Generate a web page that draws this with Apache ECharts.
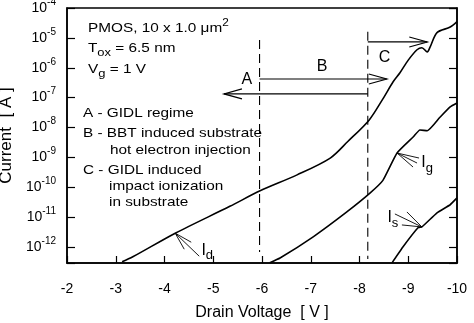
<!DOCTYPE html>
<html><head><meta charset="utf-8">
<script src="https://cdn.jsdelivr.net/npm/echarts@6/dist/echarts.min.js"></script>
<style>html,body{margin:0;padding:0;background:#fff}#c{width:474px;height:323px}</style>
</head><body><div id="c"></div>
<script>
// ---- data (drain voltage in V, current in A) ----
const idV = [-3.13, -3.35, -4.22, -5.34, -5.96, -6.72, -7.40, -7.76, -8.20, -8.48, -8.69, -8.83, -9.00, -9.18, -9.28, -9.39, -9.45, -9.59, -9.86, -10.0];
const idI = [3.2e-13, 4.7e-13, 2.9e-12, 2.3e-11, 7.6e-11, 2.6e-10, 9.5e-10, 3.4e-9, 1.8e-8, 9.1e-8, 3.4e-7, 6.8e-7, 1.8e-6, 4.0e-6, 4.7e-6, 3.4e-6, 5.0e-6, 1.5e-5, 2.3e-5, 3.5e-5];
const igV = [-6.16, -6.37, -7.05, -7.74, -8.22, -8.48, -8.77, -9.10, -9.24, -9.39, -9.65, -9.86, -10.0];
const igI = [3.0e-13, 4.3e-13, 2.2e-12, 1.5e-11, 6.5e-11, 1.7e-10, 1.4e-9, 4.8e-9, 8.3e-9, 7.8e-9, 2.2e-8, 4.9e-8, 6.6e-8];
const isV = [-8.67, -8.89, -9.20, -9.28, -9.59, -9.86, -10.0];
const isI = [3.0e-13, 1.0e-12, 4.4e-12, 4.7e-12, 1.4e-11, 2.6e-11, 4.4e-11];

// region boundaries (dashed lines)
const regionV = [-5.95, -8.17];
const regionTop = [8.5e-6, 1.6e-5];
const regionBottom = [6.8e-13, 4.0e-13];

// region arrows
const arrowLabels = ['A', 'B', 'C'];
const arrowFrom = [-8.17, -5.95, -8.17];
const arrowTo = [-5.22, -8.56, -9.39];
const arrowI = [1.33e-7, 4.2e-7, 7.3e-6];

// curve labels (anchor point on each curve)
const leaderNames = ['d', 'g', 's'];
const leaderV = [-4.22, -8.77, -9.28];
const leaderI = [2.9e-12, 1.4e-9, 4.7e-12];

// axis range
const xMin = -10, xMax = -2;
const yMin = 2.92e-13, yMax = 1e-4;

// ---- styling ----
const FONT = '"Liberation Sans", Arial, Helvetica, sans-serif';
const arrowLabelOffset = [[-49, -14], [-1, -12], [-13, 16]];
const leaderFan = [
  [[9, 16], [16, 9], [24, 23]],
  [[22, 5], [20, 10], [16, 14]],
  [[-27, -13], [-15, -15], [-20, -2]]
];
const leaderLabelOffset = [[32, 17], [30, 10], [-29, -9]];

const pairs = (xs, ys) => xs.map((x, i) => [x, ys[i]]);
function curve(name, xs, ys, smooth) {
  return {
    type: 'line', name, data: pairs(xs, ys), symbol: 'none', showSymbol: false, smooth,
    lineStyle: { color: '#000', width: 1.6 }, itemStyle: { color: '#000' },
    silent: true, animation: false, z: 3
  };
}
function dashed(i) {
  return {
    type: 'line', data: [[regionV[i], regionTop[i]], [regionV[i], regionBottom[i]]],
    symbol: 'none', lineStyle: { color: '#000', width: 1.1, type: [9, 5] },
    silent: true, animation: false, z: 2
  };
}

const chart = echarts.init(document.getElementById('c'), null, { renderer: 'canvas' });

const yLabel = {
  fontFamily: FONT, color: '#000', margin: 11,
  formatter: v => {
    const e = Math.log10(v), r = Math.round(e);
    if (Math.abs(e - r) > 1e-6) return '';
    return '{b|10}{s|' + r + '}';
  },
  rich: {
    b: { fontSize: 14, fontFamily: FONT, color: '#000', lineHeight: 22 },
    s: { fontSize: 10, fontFamily: FONT, color: '#000', verticalAlign: 'top' }
  }
};

const textRich = {
  sub: { fontSize: 11, fontFamily: FONT, color: '#000', verticalAlign: 'bottom' },
  sup: { fontSize: 10, fontFamily: FONT, color: '#000', verticalAlign: 'top' }
};
const textRows = [
  [88, 28, 'PMOS, 10 x 1.0 μm{sup|2}'],
  [88, 48, 'T{sub|ox} = 6.5 nm'],
  [88, 69, 'V{sub|g} = 1 V'],
  [83, 113, 'A - GIDL regime'],
  [83, 133, 'B - BBT induced substrate'],
  [110, 150, 'hot electron injection'],
  [83, 170, 'C - GIDL induced'],
  [109, 186, 'impact ionization'],
  [109, 202, 'in substrate']
];

const option = {
  animation: false,
  backgroundColor: '#fff',
  grid: { left: 67, right: 17, top: 8, bottom: 60, show: true, borderColor: '#000', borderWidth: 1.5, containLabel: false, outerBoundsMode: 'none' },
  xAxis: {
    type: 'value', min: xMin, max: xMax, interval: 1, inverse: true,
    name: 'Drain Voltage  [ V ]', nameLocation: 'middle', nameGap: 42,
    nameTextStyle: { fontFamily: FONT, fontSize: 16, color: '#000' },
    axisLine: { show: true, lineStyle: { color: '#000', width: 1.5 } },
    axisTick: { show: true, inside: true, length: 7, lineStyle: { color: '#000', width: 1.2 } },
    axisLabel: { fontFamily: FONT, fontSize: 14, color: '#000', margin: 19 },
    splitLine: { show: false }
  },
  yAxis: [{
    type: 'log', logBase: 10, min: yMin, max: yMax, splitNumber: 9,
    name: 'Current  [ A ]', nameLocation: 'middle', nameGap: 45,
    nameTextStyle: { fontFamily: FONT, fontSize: 17, color: '#000' },
    axisLine: { show: true, lineStyle: { color: '#000', width: 1.5 } },
    axisTick: { show: true, inside: true, length: 8, lineStyle: { color: '#000', width: 1.2 } },
    axisLabel: yLabel,
    splitLine: { show: false }, minorTick: { show: false }
  }, {
    type: 'log', logBase: 10, min: yMin, max: yMax, splitNumber: 9, position: 'right',
    axisLine: { show: true, lineStyle: { color: '#000', width: 1.5 } },
    axisTick: { show: true, inside: true, length: 8, lineStyle: { color: '#000', width: 1.2 } },
    axisLabel: { show: false }, splitLine: { show: false }
  }],
  series: [
    curve('Id', idV, idI, 0.3),
    curve('Ig', igV, igI, 0.15),
    curve('Is', isV, isI, 0.1),
    dashed(0), dashed(1),
    {
      type: 'custom', silent: true, animation: false, z: 4,
      encode: { x: [0, 1], y: 2 },
      data: arrowLabels.map((l, i) => [arrowFrom[i], arrowTo[i], arrowI[i]]),
      renderItem(params, api) {
        const i = params.dataIndex;
        const p1 = api.coord([api.value(0), api.value(2)]);
        const p2 = api.coord([api.value(1), api.value(2)]);
        const dir = p2[0] > p1[0] ? 1 : -1;
        const L = 18, H = 5;
        const mx = (p1[0] + p2[0]) / 2, off = arrowLabelOffset[i];
        return {
          type: 'group', children: [
            { type: 'line', shape: { x1: p1[0], y1: p1[1], x2: p2[0], y2: p2[1] }, style: { stroke: '#000', lineWidth: 1.2, fill: 'none' } },
            { type: 'polyline', shape: { points: [[p2[0] - dir * L, p2[1] - H], [p2[0], p2[1]], [p2[0] - dir * L, p2[1] + H]] }, style: { stroke: '#000', lineWidth: 1.2, fill: 'none' } },
            { type: 'text', x: mx + off[0], y: p1[1] + off[1], style: { text: arrowLabels[i], fontFamily: FONT, fontSize: 16, fill: '#000', align: 'center', verticalAlign: 'middle' } }
          ]
        };
      }
    },
    {
      type: 'custom', silent: true, animation: false, z: 4,
      encode: { x: 0, y: 1 },
      data: leaderNames.map((n, i) => [leaderV[i], leaderI[i]]),
      renderItem(params, api) {
        const i = params.dataIndex;
        const p = api.coord([api.value(0), api.value(1)]);
        const children = leaderFan[i].map(o => ({
          type: 'line', shape: { x1: p[0], y1: p[1], x2: p[0] + o[0], y2: p[1] + o[1] },
          style: { stroke: '#000', lineWidth: 0.9, fill: 'none' }
        }));
        const lo = leaderLabelOffset[i];
        children.push({
          type: 'text', x: p[0] + lo[0], y: p[1] + lo[1],
          style: {
            text: '{i|I}{s|' + leaderNames[i] + '}', align: 'center', verticalAlign: 'middle',
            rich: {
              i: { fontSize: 16, fontFamily: FONT, fill: '#000', color: '#000', lineHeight: 24 },
              s: { fontSize: 13, fontFamily: FONT, fill: '#000', color: '#000', verticalAlign: 'bottom' }
            }
          }
        });
        return { type: 'group', children };
      }
    }
  ],
  graphic: textRows.map(r => ({
    type: 'text', x: r[0], y: r[1], scaleX: 1.18, silent: true, z: 10,
    style: {
      text: r[2], fontFamily: FONT, fontSize: 13, fill: '#000', lineHeight: 20,
      align: 'left', verticalAlign: 'middle', textAlign: 'left', textVerticalAlign: 'middle',
      rich: textRich
    }
  }))
};
chart.setOption(option);
</script>
</body></html>
